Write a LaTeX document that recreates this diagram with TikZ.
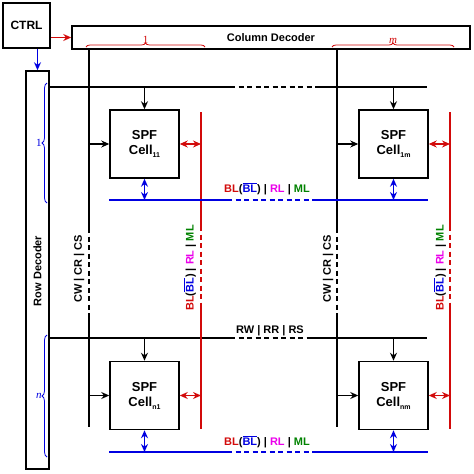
\documentclass[tikz,border=0pt]{standalone}
\usepackage{fontspec}
\setmainfont{Liberation Sans}
\newfontfamily\bracefont{Liberation Serif}
\usetikzlibrary{arrows.meta,decorations.pathreplacing}

\definecolor{sigred}{RGB}{210,10,10}
\definecolor{sigblue}{RGB}{0,0,225}
\definecolor{sigpink}{RGB}{235,0,235}
\definecolor{siggreen}{RGB}{0,130,0}

\newcommand{\siglabel}{\textcolor{sigred}{BL}(\textcolor{sigblue}{$\overline{\hbox{BL}}$}) | \textcolor{sigpink}{RL} | \textcolor{siggreen}{ML}}
\newcommand{\cellname}[1]{SPF\\Cell\raisebox{-3pt}{\fontsize{7}{8}\selectfont #1}}

\begin{document}
\begin{tikzpicture}[x=1pt,y=-1pt,>={Stealth[length=8pt,width=7pt]},line width=1.5pt,
    box/.style={draw,line width=1.5pt,font=\bfseries\fontsize{11}{13}\selectfont},
    cell node/.style={draw,line width=1.5pt,minimum width=69pt,minimum height=68pt,align=center,font=\bfseries\fontsize{13}{15}\selectfont},
    sig label/.style={font=\bfseries\fontsize{11}{13}\selectfont,inner sep=1pt},
    gap line/.style={dash pattern=on 5pt off 3.5pt},
    brace text/.style={inner sep=0pt,font=\bracefont\fontsize{11}{11}\selectfont},
    red brace/.style={sigred,line width=0.8pt,decorate,decoration={brace,amplitude=4pt}},
    blue brace/.style={sigblue,line width=0.8pt,decorate,decoration={brace,amplitude=5pt}}]

  \useasboundingbox (0,0) rectangle (474,474);

  % control and decoders
  \node[box,minimum width=47pt,minimum height=45pt,font=\bfseries\fontsize{12}{14}\selectfont] (ctrl) at (26.5,25.5) {CTRL};
  \node[box,minimum width=398pt,minimum height=23pt] (coldec) at (271,37.5) {Column Decoder};
  \node[box,minimum width=23pt,minimum height=398pt] (rowdec) at (37.5,270) {};
  \node[box,draw=none,rotate=90] (rowtext) at (37.5,271) {Row Decoder};

  \draw[->,sigred] (ctrl.east |- coldec.west) -- (coldec.west);
  \draw[->,sigblue] (ctrl.south -| rowdec.north) -- (rowdec.north);

  % braces
  \draw[red brace] (86,47) -- (205,47) node[midway,above=3pt,brace text] (colone) {1};
  \draw[red brace] (332,47) -- (454,47) node[midway,above=3pt,brace text] (colm) {\itshape m};
  \draw[blue brace] (47,203) -- (47,83) node[midway,left=5pt,brace text] (rowone) {1};
  \draw[blue brace] (47,457) -- (47,335) node[midway,left=5pt,brace text] (rown) {\itshape n};

  % cells
  \node[cell node] (c11) at (144.5,144) {\cellname{11}};
  \node[cell node] (c1m) at (393.5,144) {\cellname{1m}};
  \node[cell node] (cn1) at (144.5,395.5) {\cellname{n1}};
  \node[cell node] (cnm) at (393.5,395.5) {\cellname{nm}};

  % column lines
  \coordinate (col1 top) at (89,49);  \coordinate (col1 gap) at (89,228);
  \coordinate (col1 back) at (89,317); \coordinate (col1 end) at (89,427);
  \coordinate (colm top) at (337,49); \coordinate (colm gap) at (337,228);
  \coordinate (colm back) at (337,317); \coordinate (colm end) at (337,427);
  \draw (col1 top) -- (col1 gap) (col1 back) -- (col1 end);
  \draw[gap line] (col1 gap) -- (col1 back);
  \draw (colm top) -- (colm gap) (colm back) -- (colm end);
  \draw[gap line] (colm gap) -- (colm back);

  % row lines
  \coordinate (row1 start) at (49,87);  \coordinate (row1 gap) at (230,87);
  \coordinate (row1 back) at (315,87);  \coordinate (row1 end) at (427,87);
  \coordinate (rown start) at (49,338); \coordinate (rown gap) at (230,338);
  \coordinate (rown back) at (312,338); \coordinate (rown end) at (427,338);
  \draw (row1 start) -- (row1 gap) (row1 back) -- (row1 end);
  \draw[gap line] (row1 gap) -- (row1 back);
  \draw (rown start) -- (rown gap) (rown back) -- (rown end);
  \draw[gap line] (rown gap) -- (rown back);

  % bit lines
  \coordinate (bit1 top) at (201,112);  \coordinate (bit1 gap) at (201,226);
  \coordinate (bit1 back) at (201,308); \coordinate (bit1 end) at (201,429);
  \coordinate (bitm top) at (450,112);  \coordinate (bitm gap) at (450,226);
  \coordinate (bitm back) at (450,308); \coordinate (bitm end) at (450,429);
  \draw[sigred] (bit1 top) -- (bit1 gap) (bit1 back) -- (bit1 end);
  \draw[sigred,gap line] (bit1 gap) -- (bit1 back);
  \draw[sigred] (bitm top) -- (bitm gap) (bitm back) -- (bitm end);
  \draw[sigred,gap line] (bitm gap) -- (bitm back);

  % lower lines
  \coordinate (low1 start) at (109,200); \coordinate (low1 gap) at (227,200);
  \coordinate (low1 back) at (312,200);  \coordinate (low1 end) at (428,200);
  \coordinate (lown start) at (109,452); \coordinate (lown gap) at (227,452);
  \coordinate (lown back) at (312,452);  \coordinate (lown end) at (428,452);
  \draw[sigblue] (low1 start) -- (low1 gap) (low1 back) -- (low1 end);
  \draw[sigblue,gap line] (low1 gap) -- (low1 back);
  \draw[sigblue] (lown start) -- (lown gap) (lown back) -- (lown end);
  \draw[sigblue,gap line] (lown gap) -- (lown back);

  % cell connections
  \draw[->] (c11.north |- row1 start) -- (c11.north);
  \draw[->] (c1m.north |- row1 start) -- (c1m.north);
  \draw[->] (cn1.north |- rown start) -- (cn1.north);
  \draw[->] (cnm.north |- rown start) -- (cnm.north);
  \draw[->] (col1 top |- c11.west) -- (c11.west);
  \draw[->] (colm top |- c1m.west) -- (c1m.west);
  \draw[->] (col1 top |- cn1.west) -- (cn1.west);
  \draw[->] (colm top |- cnm.west) -- (cnm.west);
  \draw[<->,sigred] (c11.east) -- (c11.east -| bit1 top);
  \draw[<->,sigred] (c1m.east) -- (c1m.east -| bitm top);
  \draw[<->,sigred] (cn1.east) -- (cn1.east -| bit1 top);
  \draw[<->,sigred] (cnm.east) -- (cnm.east -| bitm top);
  \draw[<->,sigblue] (c11.south) -- (c11.south |- low1 start);
  \draw[<->,sigblue] (c1m.south) -- (c1m.south |- low1 start);
  \draw[<->,sigblue] (cn1.south) -- (cn1.south |- lown start);
  \draw[<->,sigblue] (cnm.south) -- (cnm.south |- lown start);

  % signal labels
  \node[sig label] (low1 text) at (267,189) {\siglabel};
  \node[sig label] (lown text) at (267,442) {\siglabel};
  \node[sig label] (rown text) at (270,331) {RW | RR | RS};
  \node[sig label,rotate=90] (col1 text) at (79,269) {CW | CR | CS};
  \node[sig label,rotate=90] (colm text) at (328,269) {CW | CR | CS};
  \node[sig label,rotate=90] (bit1 text) at (190,268) {\siglabel};
  \node[sig label,rotate=90] (bitm text) at (440,268) {\siglabel};

\end{tikzpicture}
\end{document}
